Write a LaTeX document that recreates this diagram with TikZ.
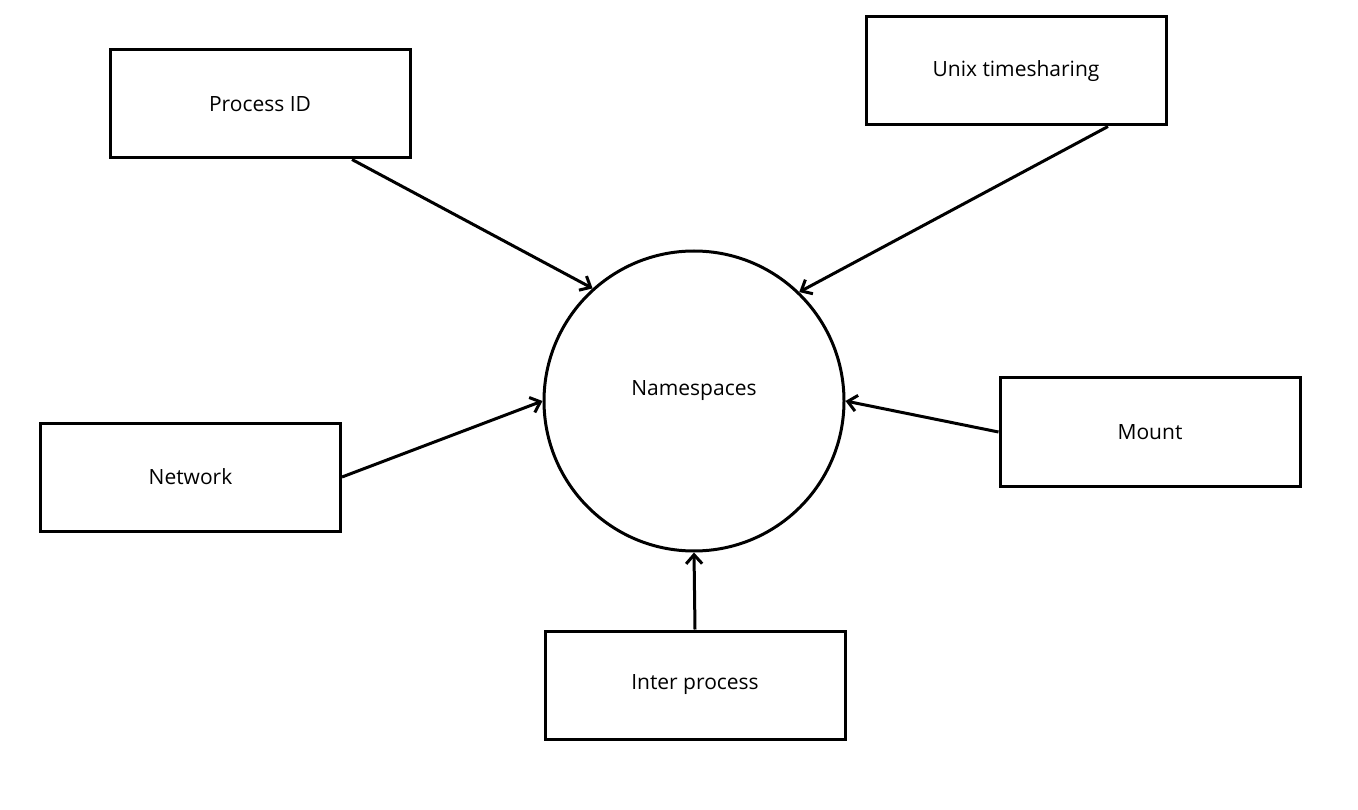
\documentclass[tikz,border=0pt]{standalone}
\usepackage{fontspec}
\setmainfont{Open Sans}
\usetikzlibrary{arrows.meta}
\begin{document}
\begin{tikzpicture}[x=1pt,y=-1pt,
  box/.style={draw,line width=3pt,minimum width=300pt,minimum height=108pt,inner sep=0pt,font=\fontsize{21}{25}\selectfont},
  conn/.style={line width=3pt,-{Straight Barb[length=9pt,width=16pt,line width=3pt]}}]
\useasboundingbox (0,0) rectangle (1358,810);
\fill[white] (0,0) rectangle (1358,810);
\node[box] (pid) at (260,104) {Process ID};
\node[box] (uts) at (1016,71) {Unix timesharing};
\node[box] (net) at (190.5,477) {Network};
\node[box] (mnt) at (1150,432) {Mount};
\node[box] (ipc) at (695,685) {Inter process};
\node[draw,circle,line width=3pt,minimum size=300pt,inner sep=0pt,font=\fontsize{21}{25}\selectfont] (ns) at (694,401) {};
\node[font=\fontsize{21}{25}\selectfont] (nslabel) at (694,391) {Namespaces};
\draw[conn] ([xshift=92pt]pid.south) -- (ns.132);
\draw[conn] ([xshift=92pt]uts.south) -- (ns.46);
\draw[conn] (net.east) -- (ns.180);
\draw[conn] (mnt.west) -- (ns.0);
\draw[conn] (ipc.north) -- (ns.270);
\end{tikzpicture}
\end{document}
